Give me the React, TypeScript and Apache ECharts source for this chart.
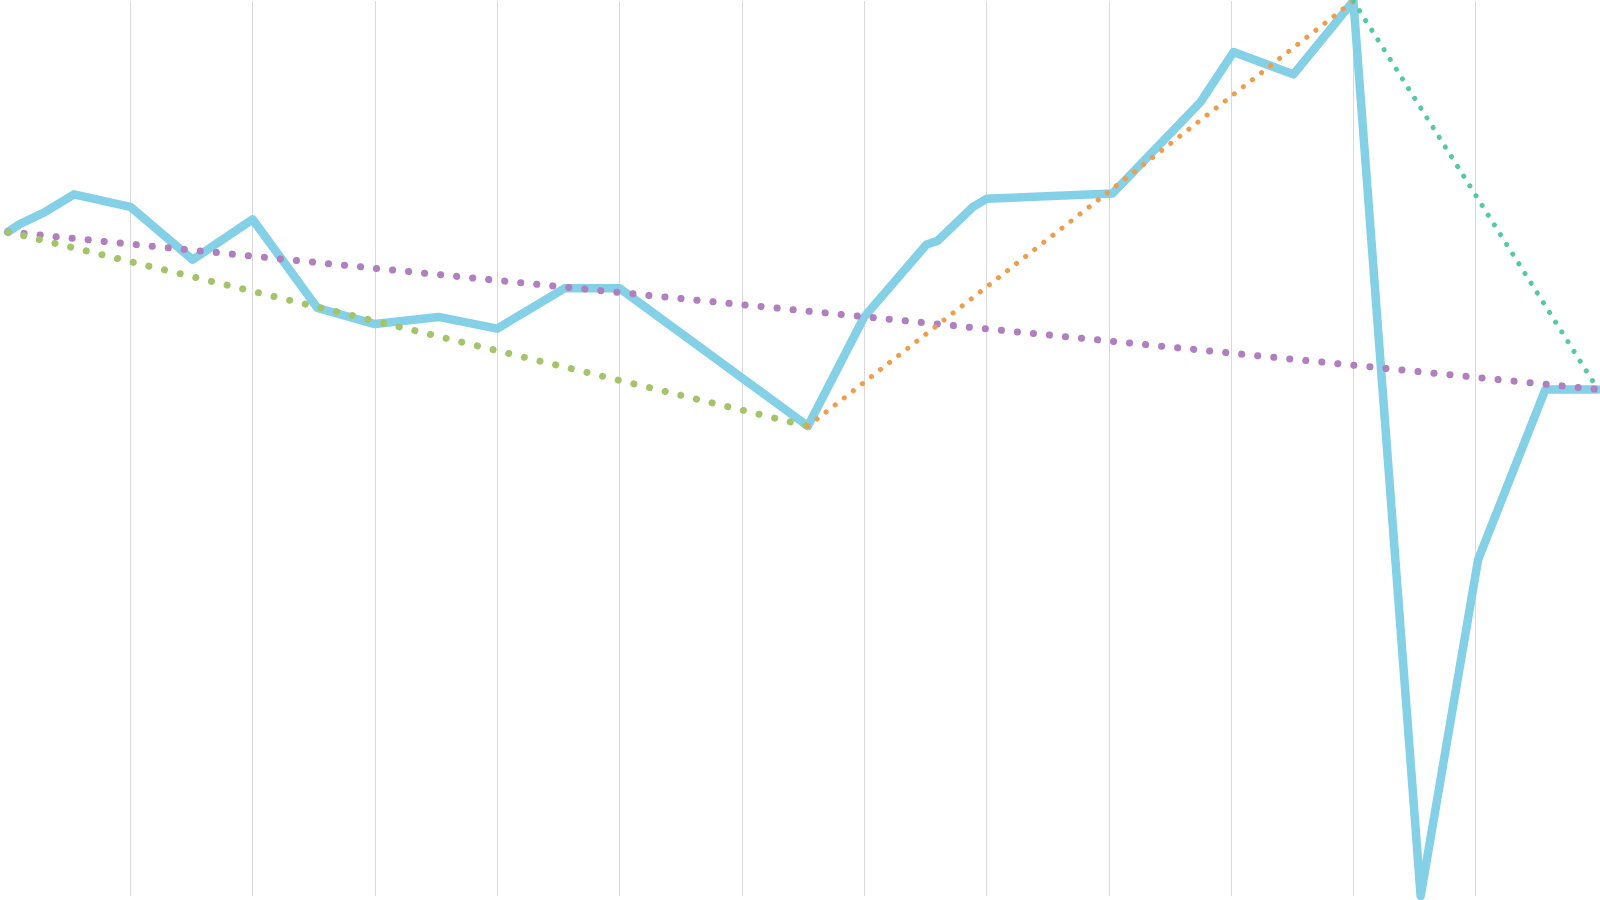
import { useEffect, useRef } from "react";
import * as echarts from "echarts";

// positions along the x axis (grid columns)
const xPositions = [
  0, 0.1, 0.3, 0.54, 1, 1.51, 2, 2.53, 3, 3.52, 4, 4.55, 5, 6.54, 7, 7.51, 7.6, 7.89, 8, 9.03, 9.75, 10.02, 10.51,
  11, 11.55, 12.02, 12.57, 13
];
const values = [
  74.2, 75.1, 76.4, 78.4, 77.0, 71.1, 75.6, 65.7, 63.9, 64.7, 63.4, 67.9, 67.9, 52.5, 64.7, 72.8, 73.2, 77.0, 77.9,
  78.5, 88.7, 94.3, 91.8, 100, 0, 37.6, 56.6, 56.6
];

// indices of the turning points joined by the dotted lines
const firstIdx = 0;
const troughIdx = 13;
const peakIdx = 23;
const lastIdx = values.length - 1;

const pt = (i: number) => [xPositions[i], values[i]];

export default function App() {
  const chartRef = useRef<HTMLDivElement>(null);

  useEffect(() => {
    document.body.style.margin = "0";
    if (!chartRef.current) return;
    const chart = echarts.init(chartRef.current, null, { renderer: "svg" });

    const dotted = (name: string, color: string, width: number, gap: number, data: number[][]) => ({
      name,
      type: "line",
      data,
      symbol: "none",
      silent: true,
      z: 3,
      lineStyle: { color, width, type: [0.1, gap], cap: "round" }
    });

    chart.setOption({
      animation: false,
      grid: { left: 8, right: 2, top: 1, bottom: 4 },
      xAxis: {
        type: "value",
        min: 0,
        max: 13,
        interval: 1,
        axisLine: { show: false },
        axisTick: { show: false },
        axisLabel: { show: false },
        splitLine: {
          show: true,
          showMinLine: false,
          showMaxLine: false,
          lineStyle: { color: "#d9d9d9", width: 1 }
        }
      },
      yAxis: {
        type: "value",
        min: 0,
        max: 100,
        axisLine: { show: false },
        axisTick: { show: false },
        axisLabel: { show: false },
        splitLine: { show: false }
      },
      series: [
        {
          name: "value",
          type: "line",
          data: xPositions.map((x, i) => [x, values[i]]),
          symbol: "none",
          z: 2,
          lineStyle: { color: "#84d0e6", width: 8.5, join: "round", cap: "round" }
        },
        dotted("trend", "#b07fbf", 7, 16, [pt(firstIdx), pt(lastIdx)]),
        dotted("down", "#a4c46a", 7, 16, [pt(firstIdx), pt(troughIdx)]),
        dotted("up", "#ee9d4c", 5, 11.4, [pt(troughIdx), pt(peakIdx)]),
        dotted("fall", "#55c9a6", 5, 11.4, [pt(peakIdx), pt(lastIdx)])
      ]
    });

    return () => {
      chart.dispose();
    };
  }, []);

  return <div ref={chartRef} style={{ width: "1600px", height: "900px" }} />;
}
